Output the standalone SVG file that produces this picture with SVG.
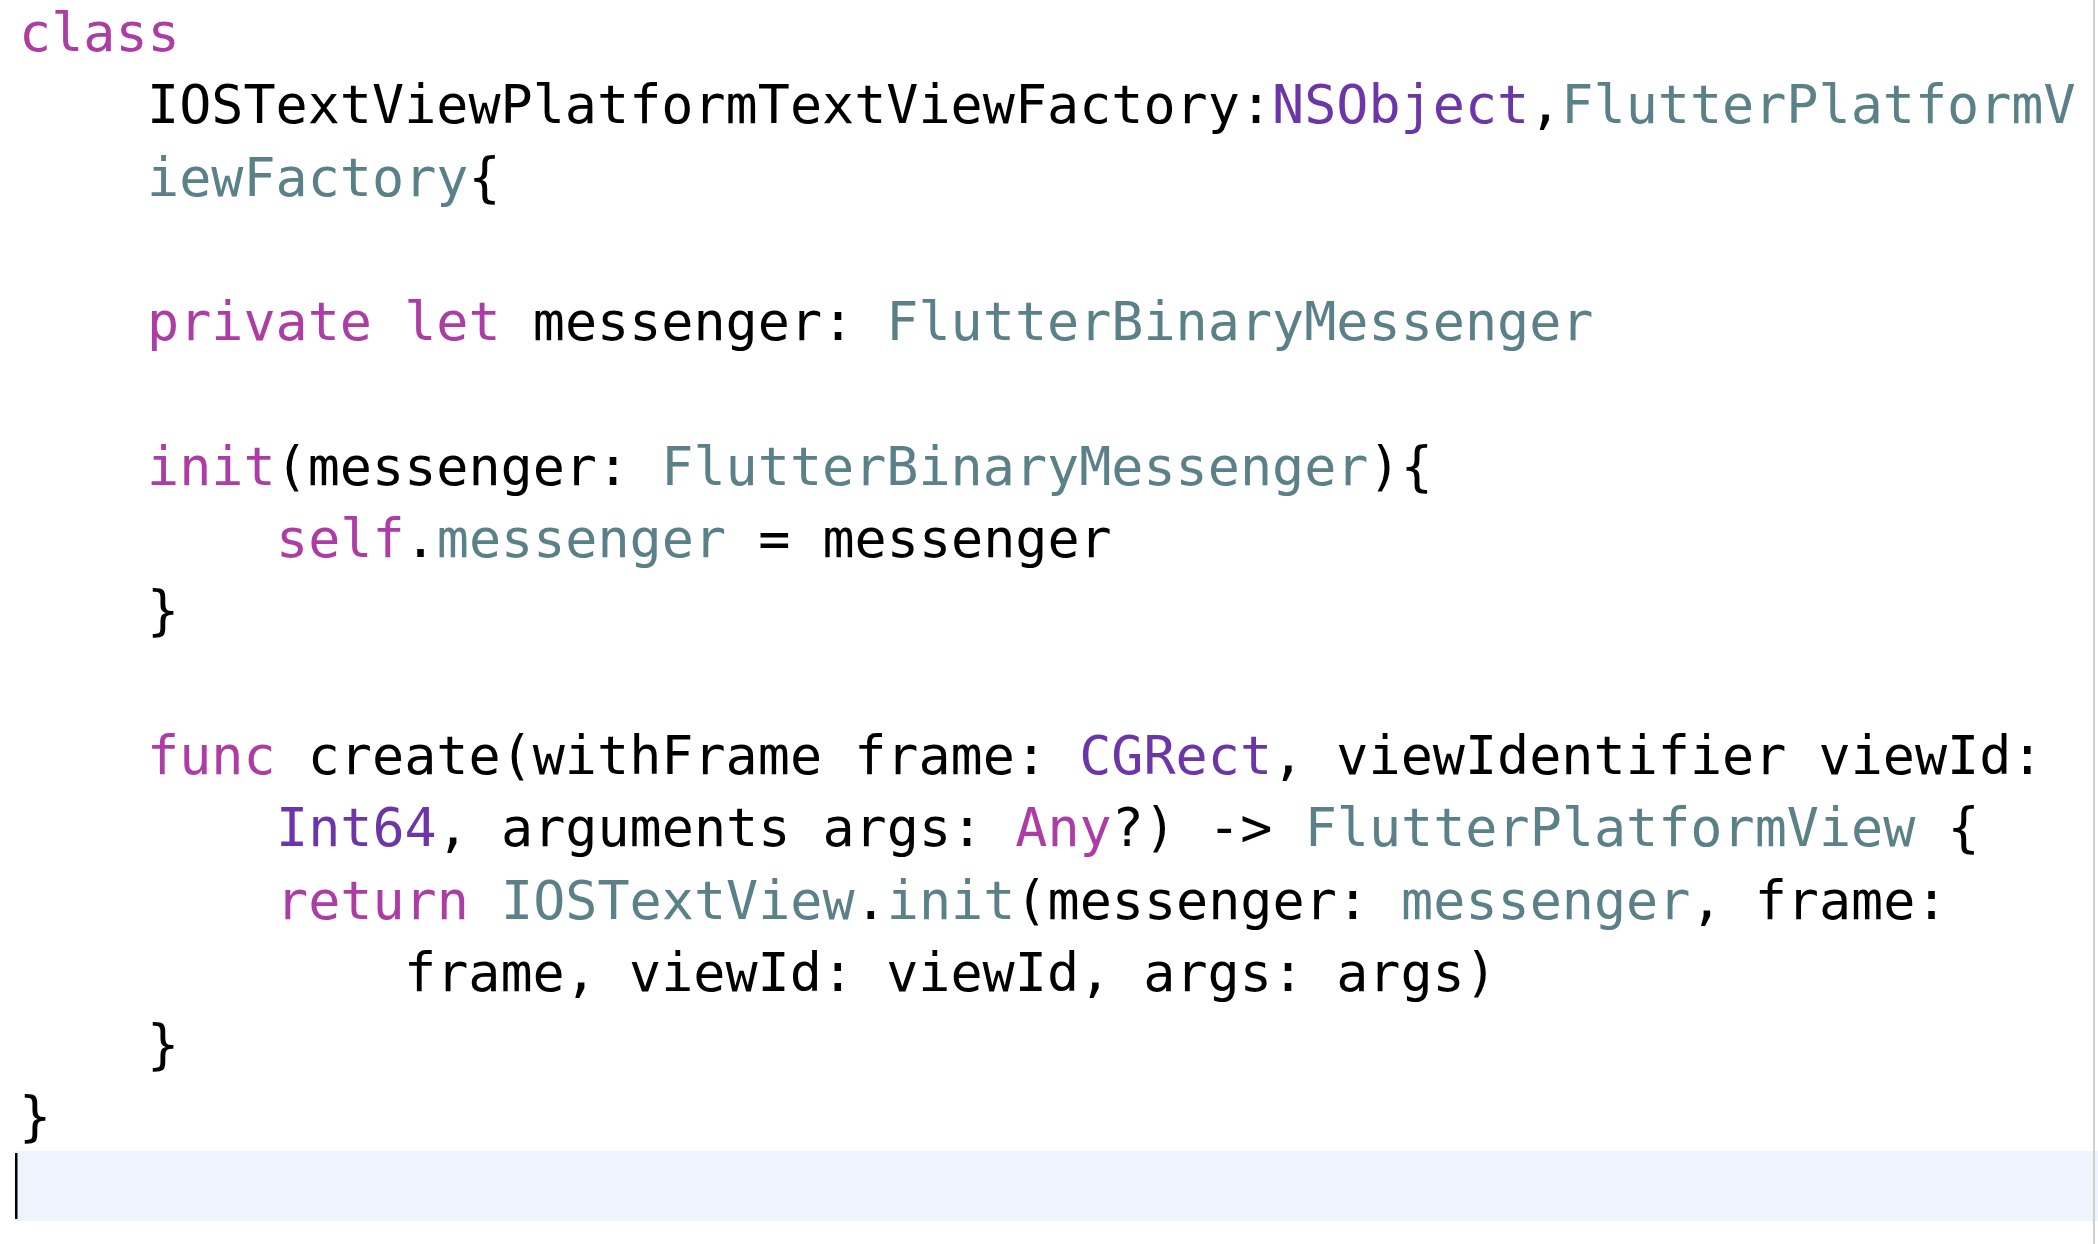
<svg xmlns="http://www.w3.org/2000/svg" width="2098" height="1244" viewBox="0 0 2098 1244">
<style>
text{font-family:"DejaVu Sans Mono","Liberation Mono",monospace;font-size:53.4px;fill:#000;white-space:pre}
.k{fill:#AD3DA4}.t{fill:#5A8088}.p{fill:#6C36A9}
</style>
<rect width="2098" height="1244" fill="#fff"/>
<rect x="16" y="1151" width="2082" height="70" fill="#EEF4FD"/>
<rect x="15" y="1153" width="2.5" height="66" fill="#000"/>
<line x1="2094" y1="0" x2="2094" y2="1244" stroke="#d0d0d0" stroke-width="2"/>
<g id="code" xml:space="preserve">
<text x="19" y="51"><tspan class="k">class</tspan></text>
<text x="147" y="123">IOSTextViewPlatformTextViewFactory:<tspan class="p">NSObject</tspan>,<tspan class="t">FlutterPlatformV</tspan></text>
<text x="147" y="196"><tspan class="t">iewFactory</tspan>{</text>
<text x="147" y="340"><tspan class="k">private let</tspan> messenger: <tspan class="t">FlutterBinaryMessenger</tspan></text>
<text x="147" y="485"><tspan class="k">init</tspan>(messenger: <tspan class="t">FlutterBinaryMessenger</tspan>){</text>
<text x="276" y="557"><tspan class="k">self</tspan>.<tspan class="t">messenger</tspan> = messenger</text>
<text x="147" y="629">}</text>
<text x="147" y="774"><tspan class="k">func</tspan> create(withFrame frame: <tspan class="p">CGRect</tspan>, viewIdentifier viewId:</text>
<text x="276" y="846"><tspan class="p">Int64</tspan>, arguments args: <tspan class="k">Any</tspan>?) -&gt; <tspan class="t">FlutterPlatformView</tspan> {</text>
<text x="276" y="919"><tspan class="k">return</tspan> <tspan class="t">IOSTextView</tspan>.<tspan class="t">init</tspan>(messenger: <tspan class="t">messenger</tspan>, frame:</text>
<text x="404" y="991">frame, viewId: viewId, args: args)</text>
<text x="147" y="1063">}</text>
<text x="19" y="1135">}</text>
</g>
</svg>
